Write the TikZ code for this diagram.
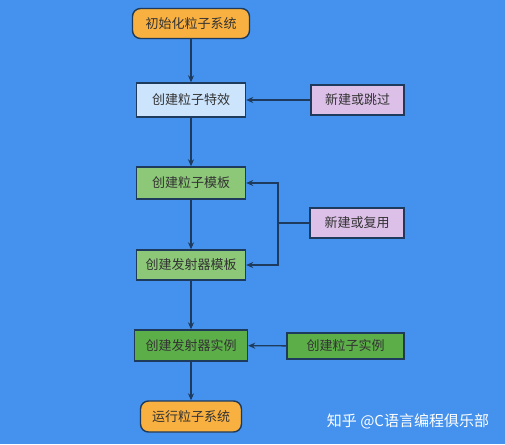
\documentclass[tikz,border=0pt]{standalone}
\usepackage{fontspec}
\setmainfont{Noto Sans CJK SC}
\usetikzlibrary{arrows.meta}
\definecolor{bgblue}{HTML}{4492EE}
\definecolor{edge}{HTML}{1E3A5C}
\definecolor{orangefill}{HTML}{F8B040}
\definecolor{bluefill}{HTML}{CCE4FC}
\definecolor{lilacfill}{HTML}{DCC0E8}
\definecolor{greenfill}{HTML}{8CC878}
\definecolor{darkgreen}{HTML}{5CAF48}
\begin{document}
\begin{tikzpicture}[x=1pt,y=-1pt,
    box/.style={draw=edge,line width=1.4pt,text=black!80,inner sep=0pt,font=\fontsize{13}{15}\selectfont},
    term/.style={box,fill=orangefill,rounded corners=8pt},
    flow/.style={draw=edge,line width=1.4pt,-{Stealth[length=7pt,width=6pt]}}]
  \fill[bgblue] (0,0) rectangle (505,444);
  \useasboundingbox (0,0) rectangle (505,444);
  % main column
  \node[term,minimum width=117pt,minimum height=30pt] (init) at (191,23.5) {初始化粒子系统};
  \node[box,fill=bluefill,minimum width=109pt,minimum height=34pt] (effect) at (191,100) {创建粒子特效};
  \node[box,fill=greenfill,minimum width=109pt,minimum height=32pt] (ptmpl) at (191,183) {创建粒子模板};
  \node[box,fill=greenfill,minimum width=109pt,minimum height=30pt] (etmpl) at (191,265) {创建发射器模板};
  \node[box,fill=darkgreen,minimum width=113pt,minimum height=31pt] (einst) at (191,345.5) {创建发射器实例};
  \node[term,minimum width=101pt,minimum height=31pt] (run) at (191,416.5) {运行粒子系统};
  % side column
  \node[box,fill=lilacfill,minimum width=93pt,minimum height=30pt] (skip) at (357.5,100) {新建或跳过};
  \node[box,fill=lilacfill,minimum width=94pt,minimum height=30pt] (reuse) at (357,223) {新建或复用};
  \node[box,fill=darkgreen,minimum width=117pt,minimum height=26pt] (pinst) at (345.5,346) {创建粒子实例};
  \coordinate (split) at (278,223);
  % connectors
  \draw[flow] (init) -- (effect);
  \draw[flow] (effect) -- (ptmpl);
  \draw[flow] (ptmpl) -- (etmpl);
  \draw[flow] (etmpl) -- (einst);
  \draw[flow] (einst) -- (run);
  \draw[flow] (skip) -- (effect);
  \draw[flow] (pinst) -- (einst);
  \draw[draw=edge,line width=1.4pt] (reuse) -- (split);
  \draw[flow] (split) |- (ptmpl.east);
  \draw[flow] (split) |- (etmpl.east);
  \node[text=white,font=\fontsize{15}{17}\selectfont] (mark) at (408,421) {知乎 @C语言编程俱乐部};
\end{tikzpicture}
\end{document}
